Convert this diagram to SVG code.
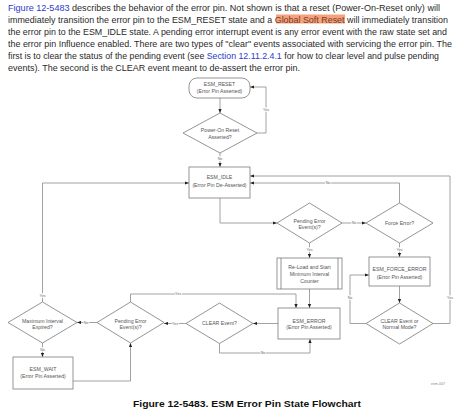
<svg xmlns="http://www.w3.org/2000/svg" width="474" height="415" viewBox="0 0 474 415">
<defs>
<marker id="ah" markerUnits="userSpaceOnUse" markerWidth="4" markerHeight="4" viewBox="0 0 4 4" refX="4" refY="2" orient="auto">
<path d="M0,0.4 L4,2 L0,3.6 Z" fill="#222"/>
</marker>
<style>
.para{font-family:"Liberation Sans",Arial,sans-serif;font-size:9px;fill:#2a2a2a}
.link{fill:#2b3bc8}
.shape{fill:#fff;stroke:#7a7a7a;stroke-width:0.8}
.nt{font-family:"Liberation Sans",Arial,sans-serif;font-size:5.2px;fill:#555;text-anchor:middle}
.conn{fill:none;stroke:#8a8a8a;stroke-width:0.8}
.arr{marker-end:url(#ah)}
.lbl{font-family:"Liberation Sans",Arial,sans-serif;font-size:3.6px;fill:#666;text-anchor:middle;stroke:#fff;stroke-width:1.6px;paint-order:stroke}
.cap{font-family:"Liberation Sans",Arial,sans-serif;font-size:9.5px;font-weight:bold;fill:#111}
</style>
</defs>
<rect width="474" height="415" fill="#fff"/>

<g id="paragraph">
<rect x="276" y="14.5" width="69" height="9" fill="#f4a27e"/>
<text class="para" x="8" y="10.5" textLength="432" lengthAdjust="spacingAndGlyphs"><tspan class="link">Figure 12-5483</tspan> describes the behavior of the error pin. Not shown is that a reset (Power-On-Reset only) will</text>
<text class="para" x="8" y="22.5" textLength="440" lengthAdjust="spacingAndGlyphs">immediately transition the error pin to the ESM_RESET state and a <tspan fill="#7a3a20">Global Soft Reset</tspan> will immediately transition</text>
<text class="para" x="8" y="34.5" textLength="439" lengthAdjust="spacingAndGlyphs">the error pin to the ESM_IDLE state. A pending error interrupt event is any error event with the raw state set and</text>
<text class="para" x="8" y="46.5" textLength="444" lengthAdjust="spacingAndGlyphs">the error pin Influence enabled. There are two types of "clear" events associated with servicing the error pin. The</text>
<text class="para" x="8" y="58.5" textLength="431" lengthAdjust="spacingAndGlyphs">first is to clear the status of the pending event (see <tspan class="link">Section 12.11.2.4.1</tspan> for how to clear level and pulse pending</text>
<text class="para" x="8" y="70.5" textLength="292" lengthAdjust="spacingAndGlyphs">events). The second is the CLEAR event meant to de-assert the error pin.</text>
</g>

<g id="connectors">
<path class="conn arr" d="M220,98 V113"/>
<path class="conn arr" d="M257,133 H266 V87 H250"/>
<path class="conn arr" d="M220,153 V167"/>
<path class="conn arr" d="M220,198 V223 H277"/>
<path class="conn arr" d="M342,223 H366"/>
<path class="conn arr" d="M399.5,203 V183 H250"/>
<path class="conn arr" d="M399.5,243 V257"/>
<path class="conn arr" d="M399.5,286 V303"/>
<path class="conn arr" d="M366,323.5 H350 V275 H369"/>
<path class="conn arr" d="M433,323.5 H450 V176 H250"/>
<path class="conn arr" d="M309.5,243 V258"/>
<path class="conn arr" d="M309.5,289 V308"/>
<path class="conn arr" d="M278,323.5 H253"/>
<path class="conn arr" d="M219.5,343.5 V353 H310 V339"/>
<path class="conn arr" d="M186,323.5 H164"/>
<path class="conn arr" d="M130.5,302 V294 H296 V308"/>
<path class="conn arr" d="M97,322.5 H77"/>
<path class="conn arr" d="M42.5,302 V183 H189"/>
<path class="conn arr" d="M42.5,343 V357"/>
<path class="conn arr" d="M73,381 H130.5 V343"/>
<text class="lbl" x="266" y="110.5">Yes</text>
<text class="lbl" x="220" y="160">No</text>
<text class="lbl" x="354" y="224.3">No</text>
<text class="lbl" x="328" y="184.3">No</text>
<text class="lbl" x="399.5" y="251">Yes</text>
<text class="lbl" x="309.5" y="251">Yes</text>
<text class="lbl" x="350" y="298.5">No</text>
<text class="lbl" x="450" y="298.5">Yes</text>
<text class="lbl" x="263" y="354.3">No</text>
<text class="lbl" x="175" y="324.8">Yes</text>
<text class="lbl" x="178" y="295.3">Yes</text>
<text class="lbl" x="86" y="323.8">No</text>
<text class="lbl" x="42.5" y="296.5">Yes</text>
<text class="lbl" x="42.5" y="350.5">No</text>
</g>

<g id="esm_reset">
<rect class="shape" x="189" y="78" width="61" height="20" rx="8"/>
<text class="nt" x="219.5" y="86">ESM_RESET</text>
<text class="nt" x="219.5" y="92.5">(Error Pin Asserted)</text>
</g>
<g id="por_asserted">
<polygon class="shape" points="220,113 257,133 220,153 183,133"/>
<text class="nt" x="220" y="132">Power-On Reset</text>
<text class="nt" x="220" y="138.5">Asserted?</text>
</g>
<g id="esm_idle">
<rect class="shape" x="189" y="167" width="61" height="31"/>
<text class="nt" x="219.5" y="179">ESM_IDLE</text>
<text class="nt" x="219.5" y="186.5">(Error Pin De-Asserted)</text>
</g>
<g id="pending1">
<polygon class="shape" points="309.5,203 342,223 309.5,243 277,223"/>
<text class="nt" x="309.5" y="222.5">Pending Error</text>
<text class="nt" x="309.5" y="228.5">Event(s)?</text>
</g>
<g id="force_error_q">
<polygon class="shape" points="399.5,203 433,223 399.5,243 366,223"/>
<text class="nt" x="399.5" y="225">Force Error?</text>
</g>
<g id="esm_force_error">
<rect class="shape" x="369" y="257" width="61" height="29"/>
<text class="nt" x="399.5" y="271">ESM_FORCE_ERROR</text>
<text class="nt" x="399.5" y="278.5">(Error Pin Asserted)</text>
</g>
<g id="clear_normal">
<polygon class="shape" points="399.5,303 433,323.5 399.5,344 366,323.5"/>
<text class="nt" x="399.5" y="322.5">CLEAR Event or</text>
<text class="nt" x="399.5" y="328.5">Normal Mode?</text>
</g>
<g id="reload_counter">
<rect class="shape" x="277" y="258" width="65" height="31"/>
<line class="shape" x1="281" y1="258" x2="281" y2="289"/>
<line class="shape" x1="338" y1="258" x2="338" y2="289"/>
<text class="nt" x="309.5" y="269">Re-Load and Start</text>
<text class="nt" x="309.5" y="276">Minimum Interval</text>
<text class="nt" x="309.5" y="283">Counter</text>
</g>
<g id="esm_error">
<rect class="shape" x="278" y="308" width="62" height="31"/>
<text class="nt" x="309" y="322.5">ESM_ERROR</text>
<text class="nt" x="309" y="329">(Error Pin Asserted)</text>
</g>
<g id="clear_event">
<polygon class="shape" points="219.5,303 253,323.5 219.5,343.5 186,323.5"/>
<text class="nt" x="219.5" y="325.3">CLEAR Event?</text>
</g>
<g id="pending2">
<polygon class="shape" points="130.5,302 164,322.5 130.5,343 97,322.5"/>
<text class="nt" x="130.5" y="322.5">Pending Error</text>
<text class="nt" x="130.5" y="328.8">Event(s)?</text>
</g>
<g id="max_interval">
<polygon class="shape" points="42.5,302 77,322.5 42.5,343 8,322.5"/>
<text class="nt" x="42.5" y="322.5">Maximum Interval</text>
<text class="nt" x="42.5" y="328.8">Expired?</text>
</g>
<g id="esm_wait">
<rect class="shape" x="13" y="357" width="60" height="32"/>
<text class="nt" x="43" y="371">ESM_WAIT</text>
<text class="nt" x="43" y="378">(Error Pin Asserted)</text>
</g>

<g id="caption">
<text x="431" y="384.5" font-family="Liberation Sans, Arial, sans-serif" font-size="3.6" fill="#888">esm-007</text>
<text class="cap" x="133" y="407" textLength="228" lengthAdjust="spacingAndGlyphs">Figure 12-5483. ESM Error Pin State Flowchart</text>
</g>
</svg>
